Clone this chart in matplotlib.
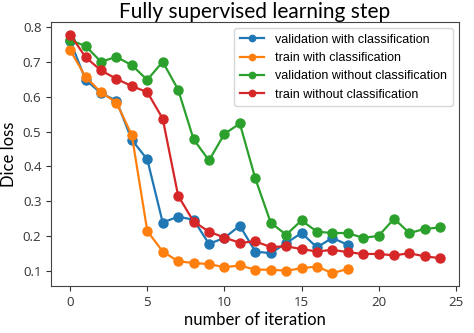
import matplotlib
matplotlib.use("Agg")
import matplotlib.pyplot as plt

iters_cls = list(range(19))
iters_nocls = list(range(25))

val_cls = [0.760, 0.648, 0.610, 0.588, 0.476, 0.420, 0.239, 0.256, 0.247, 0.178,
           0.195, 0.230, 0.156, 0.151, 0.180, 0.209, 0.168, 0.195, 0.175]
train_cls = [0.733, 0.657, 0.612, 0.583, 0.489, 0.215, 0.156, 0.128, 0.123, 0.120,
             0.111, 0.116, 0.104, 0.104, 0.101, 0.108, 0.113, 0.094, 0.106]
val_nocls = [0.762, 0.745, 0.700, 0.714, 0.690, 0.648, 0.700, 0.620, 0.478, 0.417,
             0.493, 0.523, 0.366, 0.239, 0.204, 0.245, 0.213, 0.209, 0.209, 0.195,
             0.201, 0.250, 0.209, 0.221, 0.225]
train_nocls = [0.778, 0.713, 0.675, 0.651, 0.630, 0.613, 0.537, 0.316, 0.242, 0.213,
               0.196, 0.181, 0.185, 0.169, 0.171, 0.163, 0.156, 0.161, 0.154, 0.149,
               0.149, 0.145, 0.151, 0.142, 0.137]

labels = ["validation with classification", "train with classification",
          "validation without classification", "train without classification"]
colors = ["#1f77b4", "#ff7f0e", "#2ca02c", "#d62728"]

fig = plt.figure(figsize=(4.74, 3.33), dpi=100)
ax = fig.add_axes([0.108, 0.141, 0.860, 0.793])

series = [(iters_cls, val_cls), (iters_cls, train_cls),
          (iters_nocls, val_nocls), (iters_nocls, train_nocls)]
for (x, y), lab, c in zip(series, labels, colors):
    ax.plot(x, y, marker="o", color=c, label=lab, lw=1.6, ms=6.5)

ax.set_xlim(-1.23, 25.2)
ax.set_ylim(0.057, 0.814)
ax.set_xticks([0, 5, 10, 15, 20, 25])
ax.set_yticks([0.1, 0.2, 0.3, 0.4, 0.5, 0.6, 0.7, 0.8])
ax.tick_params(labelsize=9.5, colors="#333333")
for lbl in ax.get_xticklabels() + ax.get_yticklabels():
    lbl.set_family("Open Sans")
for s in ax.spines.values():
    s.set_color("#444444")

ax.set_title("Fully supervised learning step", family="Lato", fontsize=15, pad=3)
ax.set_xlabel("number of iteration", family="Lato", fontsize=12, labelpad=2)
ax.set_ylabel("Dice loss", family="Lato", fontsize=12, labelpad=4)

leg = ax.legend(loc="upper right", prop={"family": "Liberation Sans", "size": 9},
                handlelength=1.9, borderpad=0.45, labelspacing=0.5,
                markerscale=0.7, handletextpad=0.9)

fig.savefig("out.png", dpi=100)
